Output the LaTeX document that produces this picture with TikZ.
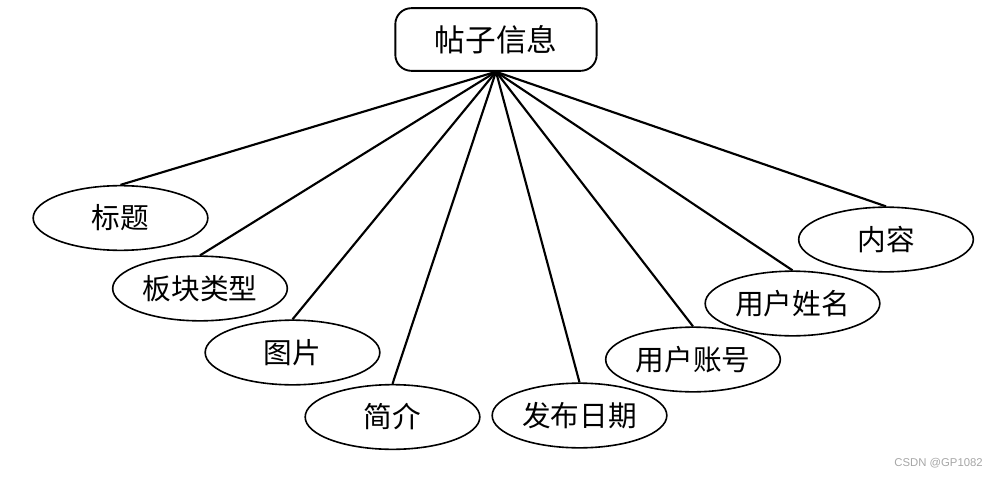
\documentclass[tikz,border=0pt]{standalone}
\usepackage{fontspec}
\newfontfamily\cjk{Noto Sans CJK SC}
\setsansfont{Liberation Sans}
\usetikzlibrary{positioning,shapes.geometric}

\begin{document}
\begin{tikzpicture}[x=0.75pt,y=-0.75pt,
  entity/.style={draw,line width=1.4pt,rounded corners=12pt,minimum width=151pt,
    minimum height=47pt,inner sep=0pt,font=\cjk\fontsize{23}{23}\selectfont},
  attr/.style={draw,ellipse,line width=1.2pt,minimum width=131pt,
    minimum height=48.5pt,inner sep=0pt,font=\cjk\fontsize{21.5}{21.5}\selectfont},
  link/.style={line width=1.6pt}]
\useasboundingbox (0,0) rectangle (998,477);
% entity
\node[entity] (post) at (496,39.5) {帖子信息};
% attributes, left to right
\node[attr] (title)   at (120.5,218) {标题};
\node[attr] (board)   at (200,288.5) {板块类型};
\node[attr] (image)   at (292.5,352.5) {图片};
\node[attr] (intro)   at (392.5,417) {简介};
\node[attr] (date)    at (579.5,415.5) {发布日期};
\node[attr] (account) at (693,359.5) {用户账号};
\node[attr] (uname)   at (792.5,303.5) {用户姓名};
\node[attr] (content) at (886,239.5) {内容};
% links from the entity to every attribute
\foreach \a in {title,board,image,intro,date,account,uname,content}
  \draw[link] (post.south) -- (\a.north);
% watermark
\node[gray!70,font=\sffamily\fontsize{8.5}{8.5}\selectfont,anchor=east,inner sep=0pt]
  (mark) at (983,463) {CSDN @GP1082};
\end{tikzpicture}
\end{document}
